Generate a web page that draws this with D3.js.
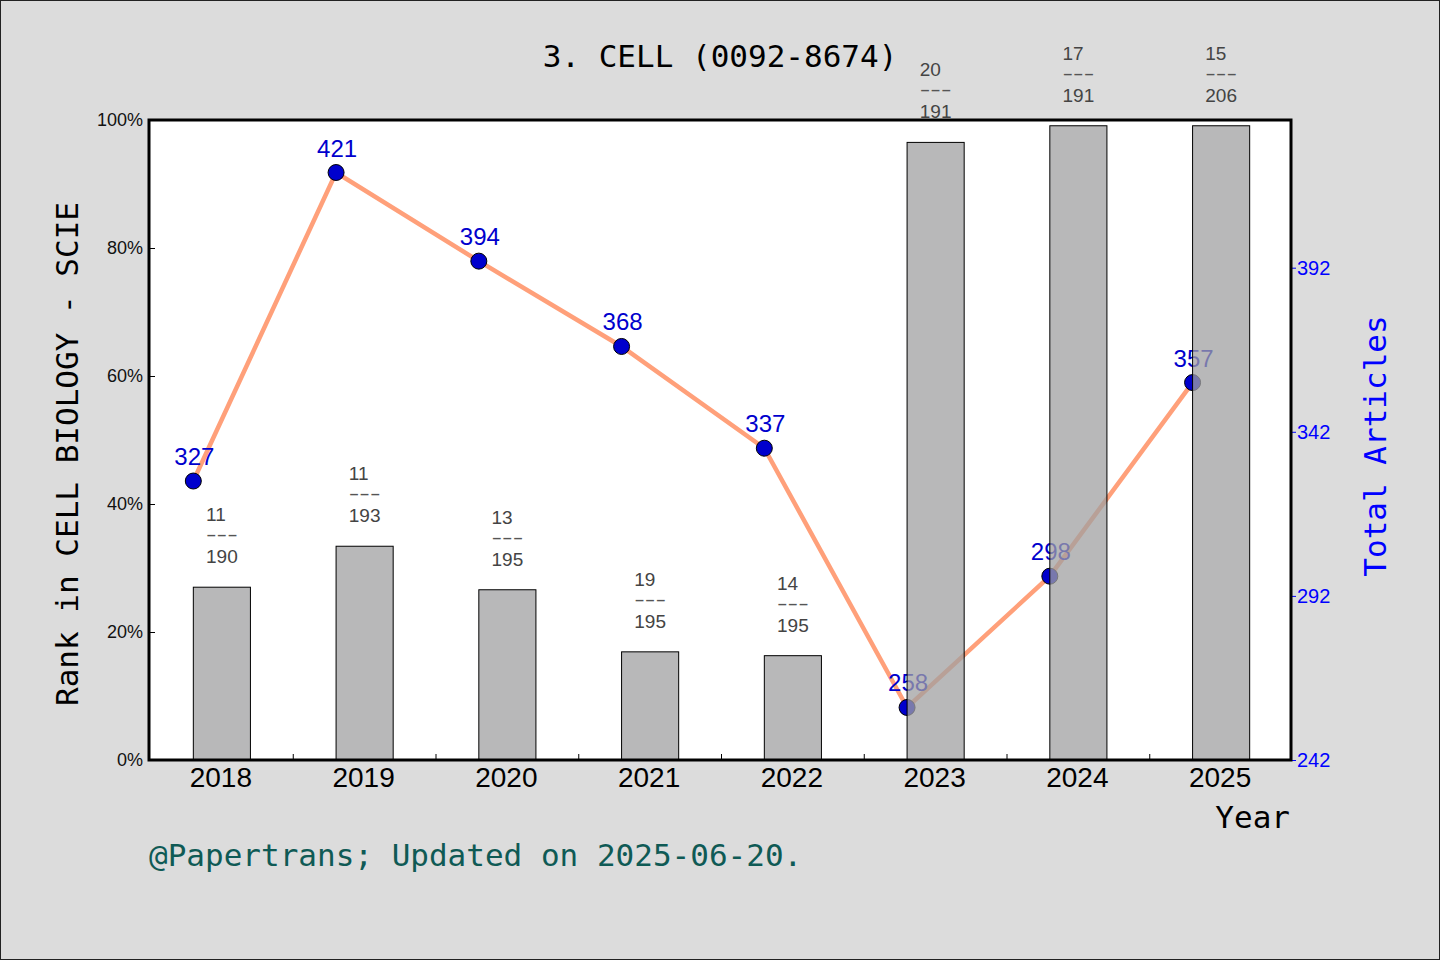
<!DOCTYPE html>
<html lang="en">
<head>
<meta charset="utf-8">
<title>3. CELL (0092-8674)</title>
<script src="https://d3js.org/d3.v7.min.js"></script>
<style>
  body { margin: 0; background: #dcdcdc; }
  svg { display: block; }
</style>
</head>
<body>
<script>
// Chart data
var years = ["2018", "2019", "2020", "2021", "2022", "2023", "2024", "2025"];
var articles = [327, 421, 394, 368, 337, 258, 298, 357];
var barPct = [27.0, 33.4, 26.6, 16.9, 16.3, 96.5, 99.1, 99.1];
var rankNum = [11, 11, 13, 19, 14, 20, 17, 15];
var rankTotal = [190, 193, 195, 195, 195, 191, 191, 206];
var leftTicks = [0, 20, 40, 60, 80, 100];
var rightTicks = [242, 292, 342, 392];

var W = 1440, H = 960;
var plot = { left: 149, right: 1291, top: 120, bottom: 760 };
var mono = "'DejaVu Sans Mono', 'Liberation Mono', monospace";
var sans = "'Liberation Sans', Arial, sans-serif";

var svg = d3.select("body").append("svg")
    .attr("width", W)
    .attr("height", H);

// figure background with thin border
svg.append("rect")
    .attr("x", 0.5).attr("y", 0.5)
    .attr("width", W - 1).attr("height", H - 1)
    .attr("fill", "#dcdcdc")
    .attr("stroke", "#222");

// plot area
svg.append("rect")
    .attr("x", plot.left).attr("y", plot.top)
    .attr("width", plot.right - plot.left).attr("height", plot.bottom - plot.top)
    .attr("fill", "#fff");

var x = d3.scaleBand().domain(years).range([plot.left + 1.5, plot.right + 1.5]).padding(0);
var barW = x.bandwidth() * 0.4;
var y = d3.scaleLinear().domain([0, 100]).range([plot.bottom, plot.top]);
var yR = d3.scaleLinear()
    .domain([d3.min(articles) - 16, d3.max(articles) + 16])
    .range([plot.bottom, plot.top]);

function cx(i) { return x(years[i]) + x.bandwidth() / 2; }
function px(i) { return cx(i) - barW / 2; }   // points sit on the bar's left edge

// line for total articles
var line = d3.line()
    .x(function(d, i) { return px(i); })
    .y(function(d) { return yR(d); });

svg.append("path")
    .datum(articles)
    .attr("d", line)
    .attr("fill", "none")
    .attr("stroke", "#ffa07a")
    .attr("stroke-width", 4.5);

svg.selectAll("circle.pt")
    .data(articles)
    .enter()
    .append("circle")
    .attr("class", "pt")
    .attr("cx", function(d, i) { return px(i); })
    .attr("cy", function(d) { return yR(d); })
    .attr("r", 8)
    .attr("fill", "#0000cd")
    .attr("stroke", "#000")
    .attr("stroke-width", 1);

svg.selectAll("text.ptlab")
    .data(articles)
    .enter()
    .append("text")
    .attr("class", "ptlab")
    .attr("x", function(d, i) { return px(i) + 1; })
    .attr("y", function(d) { return yR(d) - 16; })
    .attr("text-anchor", "middle")
    .attr("font-family", sans)
    .attr("font-size", 24)
    .attr("fill", "#0000cd")
    .text(function(d) { return d; });

// bars drawn over the line, semi transparent
svg.selectAll("rect.bar")
    .data(barPct)
    .enter()
    .append("rect")
    .attr("class", "bar")
    .attr("x", function(d, i) { return px(i); })
    .attr("y", function(d) { return y(d); })
    .attr("width", barW)
    .attr("height", function(d) { return plot.bottom - y(d); })
    .attr("fill", "rgba(160,160,161,0.75)")
    .attr("stroke", "#000")
    .attr("stroke-width", 1);

// rank labels above bars: three lines, block centred, lines left aligned
var labG = svg.append("g");
barPct.forEach(function(v, i) {
  var top = y(v);
  var g = labG.append("g");
  var numTop = g.append("text")
      .attr("y", top - 66)
      .attr("font-family", sans)
      .attr("font-size", 19)
      .attr("fill", "#444")
      .text(rankNum[i]);
  var numBot = g.append("text")
      .attr("y", top - 24)
      .attr("font-family", sans)
      .attr("font-size", 19)
      .attr("fill", "#444")
      .text(rankTotal[i]);
  var dash = g.append("text")
      .attr("y", top - 46)
      .attr("font-family", sans)
      .attr("font-size", 19)
      .attr("fill", "#555")
      .text("---");
  var wNum = Math.max(numTop.node().getComputedTextLength(), numBot.node().getComputedTextLength());
  dash.attr("textLength", wNum).attr("lengthAdjust", "spacingAndGlyphs");
  var left = cx(i) - wNum / 2;
  [numTop, numBot, dash].forEach(function(t) { t.attr("x", left); });
});

// left axis
var leftAxis = d3.axisLeft(y)
    .tickValues(leftTicks)
    .tickSize(-6)
    .tickPadding(6)
    .tickFormat(function(d) { return d + "%"; });
var gl = svg.append("g")
    .attr("transform", "translate(" + plot.left + ",0)")
    .call(leftAxis);
gl.select(".domain").remove();
gl.selectAll("line").attr("stroke", "#000");
gl.selectAll("text")
    .attr("font-family", sans)
    .attr("font-size", 18)
    .attr("fill", "#111");

// right axis
var rightAxis = d3.axisRight(yR)
    .tickValues(rightTicks)
    .tickSize(5)
    .tickPadding(1);
var gr = svg.append("g")
    .attr("transform", "translate(" + plot.right + ",0)")
    .call(rightAxis);
gr.select(".domain").remove();
gr.selectAll("line").attr("stroke", "#0000ff");
gr.selectAll("text")
    .attr("font-family", sans)
    .attr("font-size", 20)
    .attr("fill", "#0000ff");

// bottom axis: inward ticks on band boundaries, labels at centres
var bounds = d3.range(1, years.length).map(function(i) { return x(years[i]); });
svg.append("g").selectAll("line")
    .data(bounds)
    .enter()
    .append("line")
    .attr("x1", function(d) { return d; })
    .attr("x2", function(d) { return d; })
    .attr("y1", plot.bottom)
    .attr("y2", plot.bottom - 6)
    .attr("stroke", "#000");

svg.append("g").selectAll("text")
    .data(years)
    .enter()
    .append("text")
    .attr("x", function(d, i) { return cx(i) - 1; })
    .attr("y", plot.bottom + 27)
    .attr("text-anchor", "middle")
    .attr("font-family", sans)
    .attr("font-size", 28)
    .attr("fill", "#000")
    .text(function(d) { return d; });

// frame
svg.append("rect")
    .attr("x", plot.left).attr("y", plot.top)
    .attr("width", plot.right - plot.left).attr("height", plot.bottom - plot.top)
    .attr("fill", "none")
    .attr("stroke", "#000")
    .attr("stroke-width", 3);

// titles
svg.append("text")
    .attr("x", 720).attr("y", 67)
    .attr("text-anchor", "middle")
    .attr("font-family", mono)
    .attr("font-size", 31)
    .attr("fill", "#000")
    .text("3. CELL (0092-8674)");

svg.append("text")
    .attr("transform", "translate(78,454) rotate(-90)")
    .attr("text-anchor", "middle")
    .attr("font-family", mono)
    .attr("font-size", 31)
    .attr("fill", "#000")
    .text("Rank in CELL BIOLOGY - SCIE");

svg.append("text")
    .attr("transform", "translate(1386,446) rotate(-90)")
    .attr("text-anchor", "middle")
    .attr("font-family", mono)
    .attr("font-size", 31)
    .attr("fill", "#0000ff")
    .text("Total Articles");

svg.append("text")
    .attr("x", 1290).attr("y", 828)
    .attr("text-anchor", "end")
    .attr("font-family", mono)
    .attr("font-size", 31)
    .attr("fill", "#000")
    .text("Year");

svg.append("text")
    .attr("x", 149).attr("y", 866)
    .attr("font-family", mono)
    .attr("font-size", 31)
    .attr("fill", "#0f5a55")
    .text("@Papertrans; Updated on 2025-06-20.");
</script>
</body>
</html>
